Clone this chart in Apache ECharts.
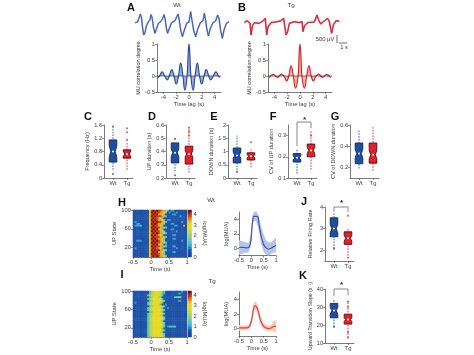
<!DOCTYPE html>
<html><head><meta charset="utf-8">
<style>html,body{margin:0;padding:0;background:#fff}#c{width:474px;height:355px;filter:blur(0.5px)}</style>
<script src="https://cdn.jsdelivr.net/npm/echarts@6/dist/echarts.min.js"></script>
</head><body><div id="c"></div>
<script>
// ---- traces (time s, µV)
const traceWtT=[0,.33,.54,.67,.79,.96,1.08,1.25,1.42,1.67,1.88,2,2.13,2.33,2.5,2.67,2.92,3.25,3.46,3.63,3.75,3.92,4.08,4.25,4.58,5,5.21,5.38,5.5,5.71,5.92,6.17,6.46,6.75,6.96,7.08,7.33,7.58,7.83,8.17,8.5,8.67,8.79,9,9.17,9.42,9.75,10.08,10.33,10.5,10.71,10.92,11.13,11.42,11.75];
const traceWtV=[146,188,312,687,521,-208,-625,-479,-62,188,354,646,479,-208,-521,-271,104,229,417,646,417,-208,-521,-271,146,271,312,687,417,-313,-729,-313,104,188,833,417,-313,-729,-271,146,271,729,417,-313,-688,-208,146,250,625,417,-354,-833,-313,104,208];
const traceTgT=[.17,.5,.71,.88,1,1.21,1.42,2.04,2.54,2.79,2.96,3.13,3.5,4.33,4.75,5.08,5.38,5.58,5.79,6.42,7.04,7.38,7.5,7.67,8.08,8.92,9.25,9.46,9.71,10.04,10.58,10.79,11.08,11.29,11.63,12.04];
const traceTgV=[146,271,354,104,-625,0,146,104,271,417,-625,-104,146,208,271,417,-625,-417,104,208,146,208,-417,-62,146,188,625,312,63,208,417,208,-521,0,271,229];
// ---- correlograms
const lagWt=[-4.9,-4.6,-4.2,-3.8,-3.4,-3.05,-2.7,-2.35,-2,-1.65,-1.3,-.95,-.65,-.3,-.15,0,.15,.3,.65,.95,1.3,1.65,2,2.35,2.7,3.05,3.4,3.8,4.2,4.6,4.8];
const corrWt=[-.05,0,.13,0,-.12,.02,.2,0,-.25,0,.4,0,-.44,0,.6,1,.6,0,-.44,0,.4,0,-.25,0,.2,.02,-.12,0,.13,0,-.05];
const lagTg=[-4.8,-4.2,-3.5,-2.9,-2.5,-2.1,-1.75,-1.4,-1.05,-.7,-.3,-.15,0,.15,.3,.7,1.05,1.4,1.75,2.1,2.5,2.9,3.5,4.2,4.8];
const corrTg=[-.05,.05,-.04,.06,0,-.15,0,.32,0,-.38,0,.6,1,.6,0,-.38,0,.32,0,-.15,0,.06,-.04,.05,-.05];
// ---- box statistics: low, q1, notchLow, median, notchHigh, q3, high
const freqWt=[.25,.48,.62,.8,.98,1.15,1.5], freqTg=[.25,.6,.64,.72,.82,.85,1.1];
const freqWtOut=[1.55,.12], freqTgOut=[1.5,1.38,1.15];
const upWt=[.25,.314,.36,.39,.42,.465,.46], upTg=[.24,.305,.36,.38,.41,.44,.58];
const upWtOut=[.495,.22], upTgOut=[.58,.55,.52];
const downWt=[.3,.57,.75,.85,.98,1.13,1.6], downTg=[.4,.68,.76,.82,.88,.95,1.08];
const downWtOut=[.23], downTgOut=[1.35];
const cvUpWt=[.12,.175,.185,.195,.205,.215,.235], cvUpTg=[.14,.2,.215,.23,.245,.26,.32];
const cvUpWtOut=[], cvUpTgOut=[.3];
const cvDownWt=[.19,.235,.29,.33,.37,.43,.56], cvDownTg=[.17,.24,.28,.32,.36,.43,.58];
const cvDownWtOut=[], cvDownTgOut=[];
const rateWt=[2.07,2.62,2.8,3,3.2,3.5,3.7], rateTg=[1.75,2.27,2.42,2.55,2.68,2.85,3.05];
const rateWtOut=[2.07], rateTgOut=[3.6,1.65];
const slopeWt=[19,24,26,28,30,32,34.5], slopeTg=[13,20.5,22,23,24,26,33];
const slopeWtOut=[19], slopeTgOut=[13,16,33,30];
const groups=['Wt','Tg'];
// ---- UP-state rasters: each digit is log(MUA) x 2, rows top to bottom, bins of 0.05 s from -0.5 s
const rasterWt=["111111111689898877531221111111","111111111698988775312111211111","111111111689897753111122111111","111111111698988877311111112111","111111111689887531111111111111","111111111698987753122111111111","121111111689898875311111111211","112211111698987753111221111111","122231111689887531111112211171","111111111698988775311111111111","111111111689897531111221111111","111111111698988753111111211111","111111111689898775311111111111","111111111698987531111122111111","111111111689888775311111111111","111111111698987753111122111111","112221111689898753111111111211","111111111698988775311111111111","111111111689897531211111111111","111111111698988775311122111111","121111111689887531111111211111","111111111698989775311111111111","111111111689897753111122111111","111111111698988753111111111111","111111111689898775311111111111"];
const rasterTg=["111111111345665533111111111211","111111111345666532111111122111","111111113456666531111111111111","111111111345664411111113344111","111111113456666531111111111111","111111111345666653111111122111","121111113456666531111111111111","111111113456665311211111111111","111111111345666653111111111111","111111113456666531121111111111","111111113456666653111111111111","111111111345666531111111111111","111111113456666653111111111111","111111113456666531111111111111","111111113456666653111111111111","111111113456666653111111111111","111111113456666531111111111111","111111113456666653111111111111","111111113456666653111111111111","111111113456666653123333111111","111111113456666531111111111111","111111113456666653111111111111","111111113456666531111111111111","111111113456666653111111111111","111111113456666653111111111111"];
const colorbarVals=[0,.2,.4,.6,.8,1,1.2,1.4,1.6,1.8,2,2.2,2.4,2.6,2.8,3,3.2,3.4,3.6,3.8,4,4.2,4.4];
// ---- mean log(MUA) with band
const muaTWt=[-.5,-.4,-.3,-.2,-.1,-.05,0,.03,.07,.1,.2,.27,.3,.35,.4,.45,.5,.6,.7,.8,.9,1];
const muaWt=[.1,.12,.1,.05,.1,.5,1.6,3,4.2,4.4,4.4,4.3,3.6,2.6,1.6,1,.5,.05,-.1,0,.2,.4];
const bandTWt=[-.5,-.3,-.1,0,.05,.1,.2,.3,.4,.5,.6,.7,.8,.9,1];
const bandUpWt=[1.1,.9,.7,2.5,4.5,5,5.1,4.5,2.9,1.9,1.1,.8,.8,1.1,1.5];
const bandLoWt=[-.9,-.7,-.5,.8,3.2,3.8,3.7,2.5,.6,-.5,-.9,-1,-.8,-.6,-.6];
const muaTTg=[-.5,-.3,-.1,0,.05,.1,.15,.2,.25,.3,.35,.4,.5,.6,.7,.8,.9,1];
const muaTg=[.1,.1,.2,1,1.9,2.9,3.1,3,2.7,2.1,1.4,.9,.3,.1,0,.1,.3,.35];
const bandUpTg=[.5,.4,.5,1.5,2.6,3.5,3.7,3.6,3.3,2.7,2,1.4,.7,.5,.4,.5,1,1.2];
const bandLoTg=[-.3,-.2,-.1,.5,1.3,2.3,2.5,2.4,2.1,1.5,.8,.4,-.1,-.3,-.4,-.3,-.4,-.5];

// ---- styling
const FONT='"Liberation Sans",Arial,sans-serif', TXT='#3a3a3a', AX='#444';
const BLUE='#2c4c9c', BLUEL='#9fb1e0', RED='#dd2335', REDL='#f8b7a0';
const BOXB='#1f4e9f', BOXBE='#12285c', BOXR='#e2202c', BOXRE='#4d0c10';
const zip=(a,b)=>a.map((v,i)=>[v,b[i]]);
const grids=[],xAxis=[],yAxis=[],series=[],heatIdx=[];
function axisBase(o,fmt){
  const tv=o.ticks;
  const a={type:'value',min:o.min,max:o.max,splitLine:{show:false},
    axisLine:{show:o.line!==false,onZero:false,lineStyle:{color:AX,width:.7}},
    axisTick:{show:o.line!==false,length:2,lineStyle:{color:AX,width:.6},alignWithLabel:true},
    axisLabel:{show:o.label!==false,fontSize:o.fs||5.6,color:TXT,fontFamily:FONT,margin:2,hideOverlap:false,showMinLabel:true,showMaxLabel:true},
    nameTextStyle:{fontSize:o.nfs||5.6,color:TXT,fontFamily:FONT}};
  if(tv){a.axisLabel.customValues=tv;a.axisTick.customValues=tv;}
  else if(o.interval) a.interval=o.interval;
  if(fmt) a.axisLabel.formatter=fmt;
  if(o.name){a.name=o.name;a.nameLocation='middle';a.nameGap=o.gap;}
  if(o.show===false) a.show=false;
  return a;
}
function addGrid(r,x,y){
  const g=grids.length;
  grids.push({left:r[0],top:r[1],width:r[2],height:r[3],containLabel:false});
  const ax=axisBase(x,x.fmt); ax.gridIndex=g; xAxis.push(ax);
  const ay=axisBase(y,y.fmt); ay.gridIndex=g; if(y.pos) ay.position=y.pos; if(y.rot!==undefined) ay.nameRotate=y.rot; yAxis.push(ay);
  return {x:xAxis.length-1,y:yAxis.length-1};
}
function line(ix,data,color,width,extra){
  series.push(Object.assign({type:'line',xAxisIndex:ix.x,yAxisIndex:ix.y,data,showSymbol:false,symbol:'none',silent:true,clip:false,
    lineStyle:{color,width}},extra||{}));
}
// ---- traces
function trace(r,t,v,dark,light,bar){
  const ix=addGrid(r,{min:0,max:r[2]/8,show:false},{min:-1250,max:1250,show:false});
  line(ix,zip(t,v),light,1.7);
  line(ix,zip(t,v),dark,.8);
  if(bar) bar.forEach(b=>line(ix,b,'#444',.8));
}
trace([135,5,100,40],traceWtT,traceWtV,BLUE,'#8ea6dc');
const scaleV=[[11.75,-625],[11.75,-1125]], scaleH=[[12,-1125],[13,-1125]];
trace([243,5,120,40],traceTgT,traceTgV,'#c8182c','#f0606e',[scaleV,scaleH]);
// ---- correlograms
function corr(r,lag,val,color,fill){
  const ix=addGrid(r,{min:-5,max:5,ticks:[-4,-2,0,2,4],name:'Time lag (s)',gap:9,fs:5.8,nfs:5.8},
    {min:-.5,max:1,ticks:[-.5,0,.5,1],name:'MU correlation degree',gap:13,fs:5.8,nfs:5.4});
  line(ix,zip(lag,val),color,1.2,{smooth:.5,areaStyle:{color:fill,opacity:1,origin:'auto'}});
  line(ix,[[-5,0],[5,0]],'#222',.6);
}
corr([157,44,64,48],lagWt,corrWt,BLUE,BLUEL);
corr([268,44,64,48],lagTg,corrTg,RED,REDL);
// ---- notched boxes
function boxRender(fill,edge){
  return function(params,api){
    const x=api.value(0), s=[1,2,3,4,5,6,7].map(i=>api.value(i));
    const w=3.8, P=v=>api.coord([x,v]), c=P(s[3])[0];
    const yy=s.map(v=>P(v)[1]);
    const poly=[[c-w,yy[5]],[c+w,yy[5]],[c+w,yy[4]],[c+w*.6,yy[3]],[c+w,yy[2]],[c+w,yy[1]],[c-w,yy[1]],[c-w,yy[2]],[c-w*.6,yy[3]],[c-w,yy[4]]];
    return {type:'group',children:[
      {type:'line',shape:{x1:c,y1:yy[0],x2:c,y2:yy[6]},style:{stroke:fill,lineWidth:.9,lineDash:[1.6,1.2]}},
      {type:'polygon',shape:{points:poly},style:{fill:fill,stroke:edge,lineWidth:.9}},
      {type:'circle',shape:{cx:c,cy:yy[3],r:1},style:{fill:'#fff'}}
    ]};
  };
}
function box(axisX,top,h,y,wt,tg,wtOut,tgOut,sig){
  const ix=addGrid([axisX,top,29,h],{min:-9/14,max:20/14,ticks:[0,1],fs:5.8,fmt:v=>groups[Math.round(v)]},y);
  [[wt,wtOut,0,BOXB,BOXBE,'#2f58ad'],[tg,tgOut,1,BOXR,BOXRE,'#e2384a']].forEach(([st,out,i,f,e,pt])=>{
    series.push({type:'custom',xAxisIndex:ix.x,yAxisIndex:ix.y,silent:true,clip:false,
      renderItem:boxRender(f,e),encode:{x:0,y:[1,2,3,4,5,6,7]},data:[[i].concat(st)]});
    if(out.length) series.push({type:'scatter',xAxisIndex:ix.x,yAxisIndex:ix.y,silent:true,symbol:'circle',symbolSize:2.2,clip:false,
      itemStyle:{color:pt},data:out.map(v=>[i,v])});
  });
  if(sig) line(ix,[[0,sig[0]],[0,sig[1]],[1,sig[1]],[1,sig[2]]],'#555',.7);
}
const Y0=125,H0=53;
box(104,Y0,H0,{min:0,max:1.6,interval:.4,name:'Frequency (Hz)',gap:13},freqWt,freqTg,freqWtOut,freqTgOut);
box(166,Y0,H0,{min:.2,max:.6,interval:.1,name:'UP duration (s)',gap:13},upWt,upTg,upWtOut,upTgOut);
box(228,Y0,H0,{min:0,max:2,interval:.5,name:'DOWN duration (s)',gap:12},downWt,downTg,downWtOut,downTgOut);
box(288,Y0,H0,{min:.1,max:.35,ticks:[.1,.2,.3],name:'CV of UP duration',gap:12},cvUpWt,cvUpTg,cvUpWtOut,cvUpTgOut,[.25,.364,.335]);
box(350,Y0,H0,{min:.1,max:.6,ticks:[.2,.4,.6],name:'CV of DOWN duration',gap:13},cvDownWt,cvDownTg,cvDownWtOut,cvDownTgOut);
box(325,207,54,{min:1.5,max:4,ticks:[2,3,4],name:'Relative Firing Rate',gap:12},rateWt,rateTg,rateWtOut,rateTgOut,[3.78,4,3.78]);
box(325,289,54,{min:10,max:40,interval:10,name:'Upward Transition Slope (s\u207B\u00B9)',gap:12,nfs:5.2},slopeWt,slopeTg,slopeWtOut,slopeTgOut,[36,40,36.5]);
// ---- heat maps
function addHidden(g,rows,n){
  const cat=(len)=>({type:'category',gridIndex:g,show:false,boundaryGap:true,data:Array.from({length:len},(_,i)=>i)});
  xAxis.push(cat(n)); yAxis.push(cat(rows));
  return {x:xAxis.length-1,y:yAxis.length-1};
}
function raster(r,rows){
  addGrid(r,{min:-.5,max:1,ticks:[-.5,0,.5,1],name:'Time (s)',gap:9,fs:5.8,nfs:5.8},
    {min:0,max:100,ticks:[20,60,100],name:'UP State',gap:11,fs:5.8,nfs:5.8,line:true});
  const ix=addHidden(grids.length-1,rows.length,rows[0].length);
  const data=[];
  rows.forEach((s,ri)=>[...s].forEach((ch,ci)=>data.push([ci,rows.length-1-ri,+ch/2])));
  heatIdx.push(series.length);
  series.push({type:'heatmap',xAxisIndex:ix.x,yAxisIndex:ix.y,data,silent:true,itemStyle:{borderWidth:0},emphasis:{disabled:true},progressive:0});
}
function colorbar(r){
  addGrid(r,{min:0,max:1,show:false},{min:0,max:4.4,ticks:[0,1,2,3,4],pos:'right',line:false,name:'log(MUA)',gap:10,rot:-90,fs:5.8,nfs:5.8});
  const ix=addHidden(grids.length-1,colorbarVals.length,1);
  heatIdx.push(series.length);
  series.push({type:'heatmap',xAxisIndex:ix.x,yAxisIndex:ix.y,data:colorbarVals.map((v,i)=>[0,i,v]),silent:true,itemStyle:{borderWidth:0},emphasis:{disabled:true},progressive:0});
}
raster([133,210,54,47],rasterWt); colorbar([188,210,3.5,47]);
raster([133,291,54,46],rasterTg); colorbar([188,291,3.5,46]);
// ---- mean MUA with band
function mua(r,t,v,bt,up,lo,color,fill){
  const ix=addGrid(r,{min:-.5,max:1,ticks:[-.5,0,.5,1],name:'Time (s)',gap:9,fs:5.8,nfs:5.8},
    {min:-1,max:5,ticks:[0,2,4],name:'log(MUA)',gap:8,fs:5.8,nfs:5.8});
  series.push({type:'custom',xAxisIndex:ix.x,yAxisIndex:ix.y,silent:true,clip:false,encode:{x:0,y:[1,2]},
    data:bt.map((b,i)=>[b,up[i],lo[i]]),
    renderItem:function(p,api){
      if(p.dataIndex!==0) return;
      const pts=bt.map((b,i)=>api.coord([b,up[i]])).concat(bt.map((b,i)=>api.coord([b,lo[i]])).reverse());
      return {type:'polygon',shape:{points:pts},style:{fill:fill}};
    }});
  line(ix,zip(t,v),color,1.2,{smooth:.3});
}
mua([239,212,37,43.5],muaTWt,muaWt,bandTWt,bandUpWt,bandLoWt,'#3f57a8','#b8c3ea');
mua([239,292,37,44],muaTTg,muaTg,muaTTg,bandUpTg,bandLoTg,'#e2404a','#f9c9b4');

// ---- free text
const T=(text,x,y,o)=>({type:'text',x,y,silent:true,style:Object.assign({text,fill:TXT,font:'5.8px '+FONT,textAlign:'center',textVerticalAlign:'middle'},o||{})});
const L=(t,x,y)=>T(t,x,y,{fill:'#111',font:'bold 11px '+FONT});
const graphic=[
  L('A',131,8),L('B',242,8),L('C',88,117),L('D',152,117),L('E',214,117),L('F',273,117),L('G',335,117),
  L('H',122,203),L('I',122,275),L('J',304,202),L('K',303,276),
  T('Wt',177,5,{font:'6.2px '+FONT}),T('Tg',291,5,{font:'6.2px '+FONT}),
  T('Wt',211,200,{font:'6.2px '+FONT}),T('Tg',212,281,{font:'6.2px '+FONT}),
  T('500 \u00B5V',325,39),T('1 s',344,47),
  T('*',304.5,120,{font:'bold 8px '+FONT,fill:'#222'}),
  T('*',341.5,203,{font:'bold 8px '+FONT,fill:'#222'}),
  T('*',341.5,285,{font:'bold 8px '+FONT,fill:'#222'})
];
const chart=echarts.init(document.getElementById('c'),null,{renderer:'canvas'});
chart.setOption({animation:false,backgroundColor:'#fff',grid:grids,xAxis,yAxis,series,graphic,
  visualMap:{show:false,min:0,max:4.4,dimension:2,seriesIndex:heatIdx,
    inRange:{color:['#1c3f97','#1f55ab','#35b3d6','#6fcaa0','#a8d65a','#e0de28','#f3d020','#e6501c','#7c0f12']}}});
</script></body></html>
